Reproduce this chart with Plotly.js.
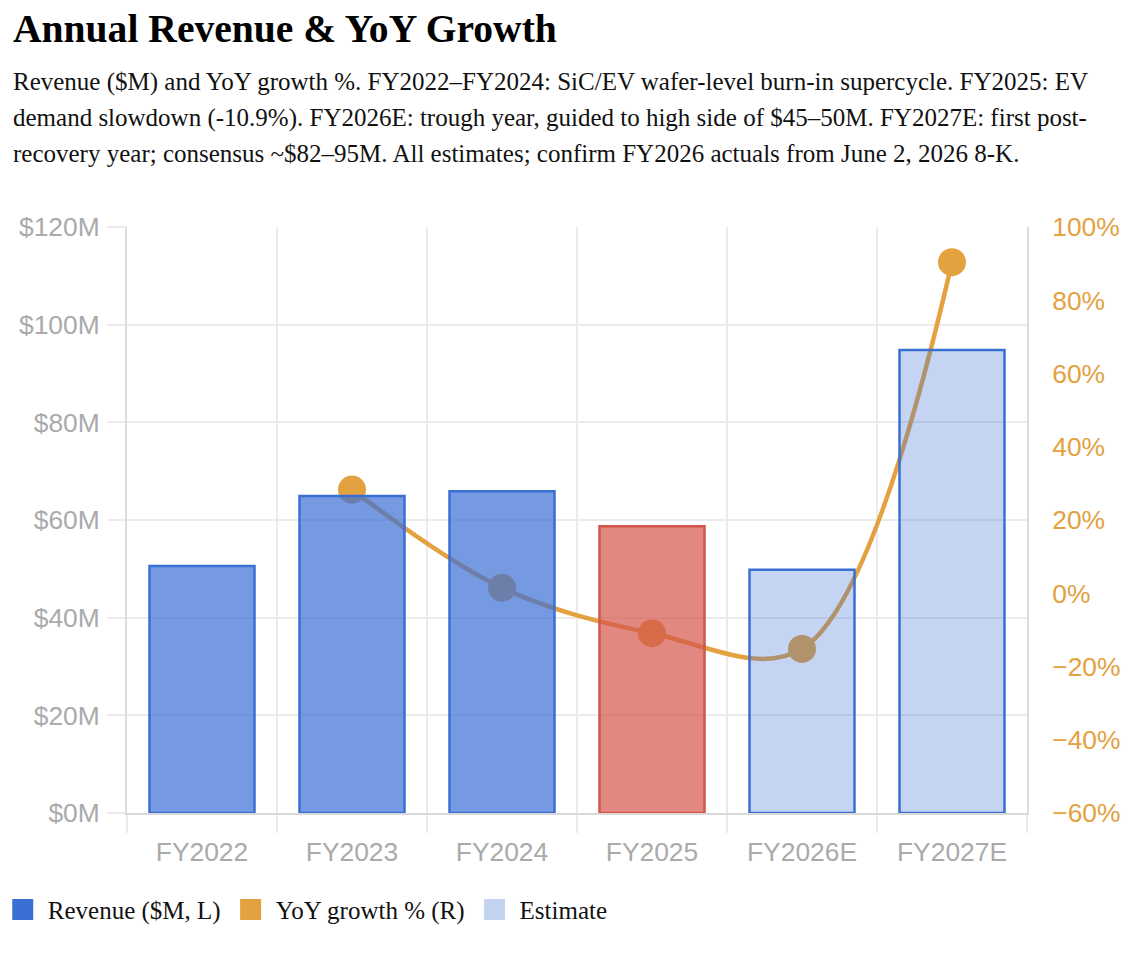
<!DOCTYPE html>
<html>
<head>
<meta charset="utf-8">
<script src="https://cdn.plot.ly/plotly-3.0.1.min.js"></script>
<style>
  html, body { margin: 0; padding: 0; background: #fff; }
  #chart { width: 1144px; height: 955px; }
</style>
</head>
<body>
<div id="chart"></div>
<script>
// Fiscal years and values
const categories = ['FY2022', 'FY2023', 'FY2024', 'FY2025', 'FY2026E', 'FY2027E'];
const revenueM = [50.6, 64.9, 65.9, 58.7, 49.8, 94.8];
const yoyGrowthPct = [null, 28.3, 1.5, -10.9, -15.2, 90.4];

const titleText = 'Annual Revenue &amp; YoY Growth';
const subtitleLines = [
  'Revenue ($M) and YoY growth %. FY2022–FY2024: SiC/EV wafer-level burn-in supercycle. FY2025: EV',
  'demand slowdown (-10.9%). FY2026E: trough year, guided to high side of $45–50M. FY2027E: first post-',
  'recovery year; consensus ~$82–95M. All estimates; confirm FY2026 actuals from June 2, 2026 8-K.'
];
const legendLabels = ['Revenue ($M, L)', 'YoY growth % (R)', 'Estimate'];

// Palette
const BLUE = '#3a6fd4';
const ORANGE = '#e3a140';
const RED = '#d4554b';
const BLUE_FILL = 'rgba(58,111,212,0.7)';
const EST_FILL = 'rgba(58,111,212,0.3)';
const RED_FILL = 'rgba(212,85,75,0.7)';
const LEGEND_EST = '#c4d4f0';

const isEstimate = categories.map(c => c.endsWith('E'));
const isDecline = yoyGrowthPct.map(v => v !== null && v < 0);
const fillColors = categories.map((c, i) => isEstimate[i] ? EST_FILL : (isDecline[i] ? RED_FILL : BLUE_FILL));
const edgeColors = categories.map((c, i) => isEstimate[i] ? BLUE : (isDecline[i] ? RED : BLUE));

const serif = '"Liberation Serif", "Times New Roman", serif';
const sans = '"Liberation Sans", Arial, sans-serif';

// Growth line sits underneath the translucent bars
const growthTrace = {
  type: 'scatter',
  mode: 'lines+markers',
  x: categories,
  y: yoyGrowthPct,
  yaxis: 'y',
  connectgaps: true,
  line: { color: ORANGE, width: 4.5, shape: 'spline', smoothing: 1 },
  marker: { color: ORANGE, size: 28 },
  showlegend: false,
  hoverinfo: 'x+y'
};

const revenueTrace = {
  type: 'bar',
  x: categories,
  y: revenueM,
  yaxis: 'y2',
  marker: { color: fillColors, line: { color: edgeColors, width: 2.5 } },
  showlegend: false,
  hoverinfo: 'x+y'
};

// Legend swatches
const legendColors = [BLUE, ORANGE, LEGEND_EST];
const legendTraces = legendLabels.map((name, i) => ({
  type: 'scatter',
  mode: 'markers',
  x: [null],
  y: [null],
  name: name,
  marker: { symbol: 'square', size: 16, color: legendColors[i], line: { color: legendColors[i], width: 5 } },
  hoverinfo: 'skip'
}));

const annotations = subtitleLines.map((t, i) => ({
  text: t,
  xref: 'paper', yref: 'paper',
  x: -0.1289, y: 1.2475 - i * 0.0614,
  xanchor: 'left', yanchor: 'middle',
  showarrow: false,
  font: { family: serif, size: 25, color: '#111' }
}));

const layout = {
  width: 1144,
  height: 955,
  paper_bgcolor: '#ffffff',
  plot_bgcolor: '#ffffff',
  margin: { l: 127, r: 117, t: 227, b: 142, autoexpand: false },
  title: {
    text: '<b>' + titleText + '</b>',
    xref: 'container', yref: 'container',
    x: 13 / 1144, xanchor: 'left',
    y: 1 - 28 / 955, yanchor: 'middle',
    font: { family: serif, size: 39.6, color: '#000' }
  },
  annotations: annotations,
  bargap: 0.3,
  xaxis: {
    type: 'category',
    tickson: 'boundaries',
    showgrid: true,
    gridcolor: '#ebebeb',
    gridwidth: 1.5,
    showline: true,
    linecolor: '#d9d9d9',
    linewidth: 2,
    ticks: 'outside',
    ticklen: 18,
    tickcolor: '#ebebeb',
    tickwidth: 1.5,
    ticklabelstandoff: 14,
    tickfont: { family: sans, size: 26.4, color: '#aaaaaa' },
    fixedrange: true
  },
  // Right-hand growth axis
  yaxis: {
    side: 'right',
    range: [-60, 100],
    tickmode: 'linear',
    tick0: 0,
    dtick: 20,
    ticksuffix: '%',
    showgrid: false,
    zeroline: false,
    showline: true,
    linecolor: '#dddddd',
    linewidth: 2,
    ticks: 'outside',
    ticklen: 18,
    tickcolor: 'rgba(0,0,0,0)',
    ticklabelstandoff: 0,
    tickfont: { family: sans, size: 26.4, color: ORANGE },
    fixedrange: true
  },
  // Left-hand revenue axis
  yaxis2: {
    overlaying: 'y',
    side: 'left',
    range: [0, 120],
    tickmode: 'linear',
    tick0: 0,
    dtick: 20,
    tickprefix: '$',
    ticksuffix: 'M',
    showgrid: true,
    gridcolor: '#ebebeb',
    gridwidth: 1.5,
    zeroline: false,
    showline: true,
    linecolor: '#dddddd',
    linewidth: 2,
    ticks: 'outside',
    ticklen: 18,
    tickcolor: '#ebebeb',
    tickwidth: 1.5,
    ticklabelstandoff: 2,
    tickfont: { family: sans, size: 26.4, color: '#aaaaaa' },
    fixedrange: true
  },
  legend: {
    orientation: 'h',
    x: -0.1436, xanchor: 'left',
    y: -0.165, yanchor: 'middle',
    itemwidth: 40,
    font: { family: serif, size: 25, color: '#111' },
    bgcolor: 'rgba(0,0,0,0)'
  },
  hovermode: 'closest'
};

Plotly.newPlot('chart', [growthTrace, revenueTrace].concat(legendTraces), layout, { displayModeBar: false, responsive: false });
</script>
</body>
</html>
